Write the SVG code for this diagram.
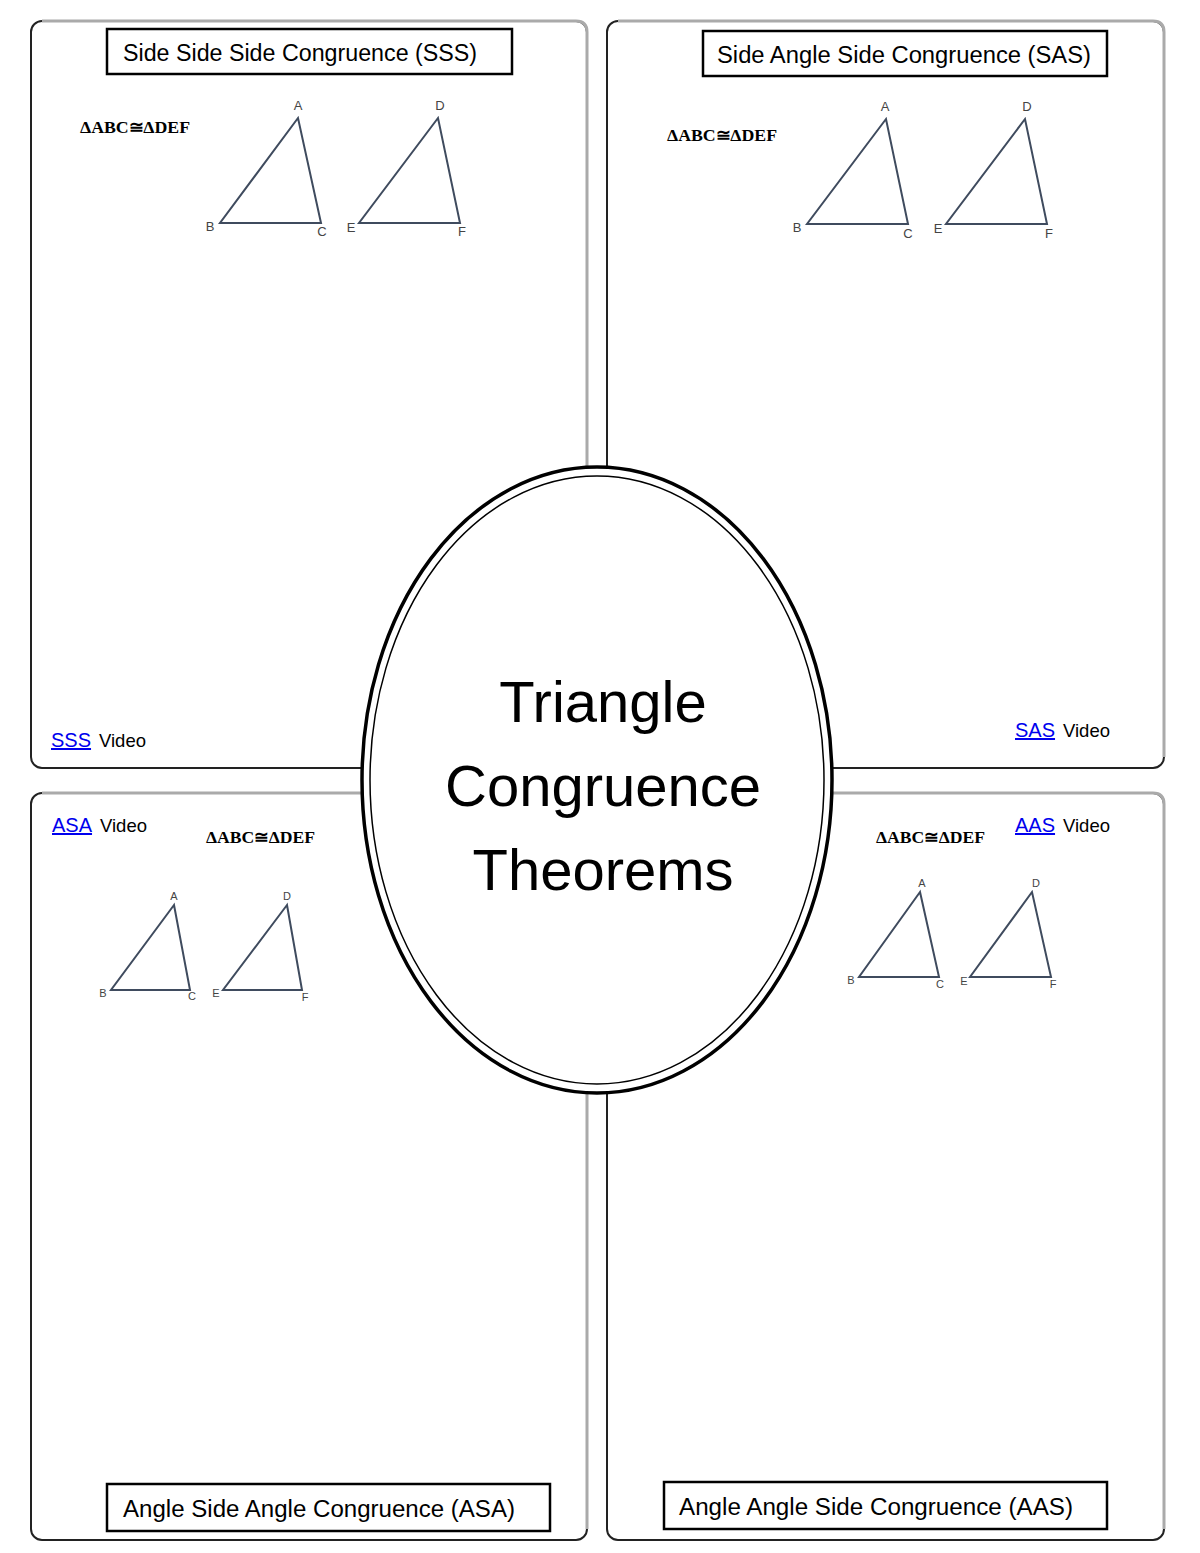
<svg xmlns="http://www.w3.org/2000/svg" width="1200" height="1553" viewBox="0 0 1200 1553">
<style>
.panel{fill:#fff;stroke:#222;stroke-width:2}
.hi{fill:none;stroke:#aaa;stroke-width:3}
.tbox{fill:#fff;stroke:#000;stroke-width:2.5}
.title{font-family:"Liberation Sans",Arial,sans-serif;font-size:23px;fill:#000}
.tri{fill:none;stroke:#3f4b5e;stroke-width:2}
.lbl{font-family:"Liberation Sans",Arial,sans-serif;font-size:13px;fill:#444;text-anchor:middle}
.lbls{font-family:"Liberation Sans",Arial,sans-serif;font-size:11px;fill:#444;text-anchor:middle}
.eq{font-family:"Liberation Serif","DejaVu Serif",serif;font-size:17px;font-weight:bold;fill:#000}
.link{font-family:"Liberation Sans",Arial,sans-serif;font-size:20px;fill:#0000ee;text-decoration:underline}
.vid{font-family:"Liberation Sans",Arial,sans-serif;font-size:18.5px;fill:#000}
.big{font-family:"Liberation Sans",Arial,sans-serif;font-size:58px;fill:#000;text-anchor:middle}
</style>
<rect width="1200" height="1553" fill="#fff"/>

<g id="panel-sss">
<rect class="panel" x="31" y="21" width="556" height="747" rx="11"/>
<path class="hi" d="M42 21 H576 Q587 21 587 32 V757"/>
<rect class="tbox" x="107" y="29" width="405" height="45"/>
<text class="title" x="123" y="61" textLength="354" lengthAdjust="spacingAndGlyphs">Side Side Side Congruence (SSS)</text>
<text class="eq" x="80" y="133" textLength="110" lengthAdjust="spacingAndGlyphs">ΔABC≅ΔDEF</text>
<polygon class="tri" points="298,118 220,223 321,223"/>
<polygon class="tri" points="438,118 359,223 460,223"/>
<text class="lbl" x="298" y="110">A</text>
<text class="lbl" x="210" y="231">B</text>
<text class="lbl" x="322" y="236">C</text>
<text class="lbl" x="440" y="110">D</text>
<text class="lbl" x="351" y="232">E</text>
<text class="lbl" x="462" y="236">F</text>
<text class="link" x="51" y="747">SSS</text>
<text class="vid" x="99" y="747">Video</text>
</g>

<g id="panel-sas">
<rect class="panel" x="607" y="21" width="557" height="747" rx="11"/>
<path class="hi" d="M618 21 H1153 Q1164 21 1164 32 V757"/>
<rect class="tbox" x="703" y="31" width="404" height="45"/>
<text class="title" x="717" y="63" textLength="374" lengthAdjust="spacingAndGlyphs">Side Angle Side Congruence (SAS)</text>
<text class="eq" x="667" y="141" textLength="110" lengthAdjust="spacingAndGlyphs">ΔABC≅ΔDEF</text>
<polygon class="tri" points="886,119 807,224 908,224"/>
<polygon class="tri" points="1025,119 946,224 1047,224"/>
<text class="lbl" x="885" y="111">A</text>
<text class="lbl" x="797" y="232">B</text>
<text class="lbl" x="908" y="238">C</text>
<text class="lbl" x="1027" y="111">D</text>
<text class="lbl" x="938" y="233">E</text>
<text class="lbl" x="1049" y="238">F</text>
<text class="link" x="1015" y="737">SAS</text>
<text class="vid" x="1063" y="737">Video</text>
</g>

<g id="panel-asa">
<rect class="panel" x="31" y="793" width="556" height="747" rx="11"/>
<path class="hi" d="M42 793 H576 Q587 793 587 804 V1529"/>
<rect class="tbox" x="107" y="1484" width="443" height="47"/>
<text class="title" x="123" y="1517" textLength="392" lengthAdjust="spacingAndGlyphs">Angle Side Angle Congruence (ASA)</text>
<text class="link" x="52" y="832">ASA</text>
<text class="vid" x="100" y="832">Video</text>
<text class="eq" x="206" y="843" textLength="109" lengthAdjust="spacingAndGlyphs">ΔABC≅ΔDEF</text>
<polygon class="tri" points="174,905 111,990 190,990"/>
<polygon class="tri" points="287,905 223,990 302,990"/>
<text class="lbls" x="174" y="900">A</text>
<text class="lbls" x="103" y="997">B</text>
<text class="lbls" x="192" y="1000">C</text>
<text class="lbls" x="287" y="900">D</text>
<text class="lbls" x="216" y="997">E</text>
<text class="lbls" x="305" y="1001">F</text>
</g>

<g id="panel-aas">
<rect class="panel" x="607" y="793" width="557" height="747" rx="11"/>
<path class="hi" d="M618 793 H1153 Q1164 793 1164 804 V1529"/>
<rect class="tbox" x="664" y="1482" width="443" height="47"/>
<text class="title" x="679" y="1515" textLength="394" lengthAdjust="spacingAndGlyphs">Angle Angle Side Congruence (AAS)</text>
<text class="link" x="1015" y="832">AAS</text>
<text class="vid" x="1063" y="832">Video</text>
<text class="eq" x="876" y="843" textLength="109" lengthAdjust="spacingAndGlyphs">ΔABC≅ΔDEF</text>
<polygon class="tri" points="920,892 859,977 939,977"/>
<polygon class="tri" points="1032,892 970,977 1051,977"/>
<text class="lbls" x="922" y="887">A</text>
<text class="lbls" x="851" y="984">B</text>
<text class="lbls" x="940" y="988">C</text>
<text class="lbls" x="1036" y="887">D</text>
<text class="lbls" x="964" y="985">E</text>
<text class="lbls" x="1053" y="988">F</text>
</g>

<g id="center">
<ellipse cx="597" cy="780" rx="235" ry="313" fill="#fff" stroke="#000" stroke-width="3.5"/>
<ellipse cx="597" cy="780" rx="227" ry="304" fill="none" stroke="#000" stroke-width="1.5"/>
<text class="big" x="603" y="722">Triangle</text>
<text class="big" x="603" y="806">Congruence</text>
<text class="big" x="603" y="890">Theorems</text>
</g>
</svg>
